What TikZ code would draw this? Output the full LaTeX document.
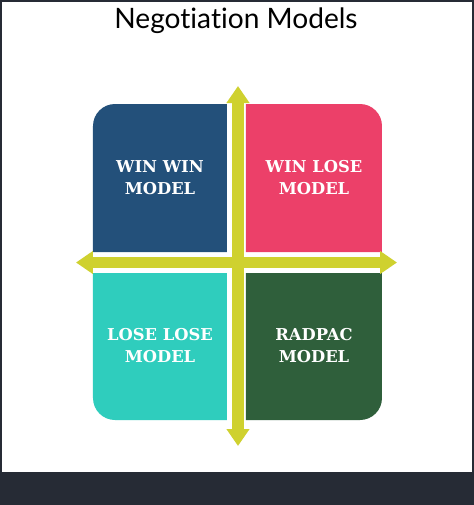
\documentclass[tikz,border=0pt]{standalone}
\usepackage{fontspec}
\setmainfont{Lato}[Ligatures={NoCommon,NoRare,NoDiscretionary}]
\newfontfamily\boxfont{DejaVu Serif}
\usetikzlibrary{arrows.meta}
\definecolor{winblue}{HTML}{23507A}
\definecolor{losepink}{HTML}{EC4069}
\definecolor{loseteal}{HTML}{2FCDBD}
\definecolor{radgreen}{HTML}{2F5F3B}
\definecolor{axisyellow}{HTML}{CFD12F}
\definecolor{framegray}{HTML}{262B35}
\newcommand*{\cornerradius}{0.44cm}

\begin{document}
\begin{tikzpicture}[x=0.02cm, y=-0.02cm,
    label/.style={text=white, align=center, font=\boxfont\bfseries\fontsize{9.3}{12.5}\selectfont},
    axis/.style={axisyellow, line width=0.23cm, {Triangle[width=0.44cm, length=0.34cm]}-{Triangle[width=0.44cm, length=0.34cm]}}]
    % page and frame
    \useasboundingbox (0,0) rectangle (474,505);
    \fill[framegray] (0,0) rectangle (474,505);
    \fill[white] (2,2) rectangle (472,472);
    % title
    \node[font=\fontsize{16}{19}\selectfont] (title) at (236,21) {Negotiation Models};
    % top left box
    \fill[winblue] (227,252) -- (93,252) [rounded corners=\cornerradius] -- (93,104) [sharp corners] -- (227,104) -- cycle;
    % top right box
    \fill[losepink] (246,252) -- (246,104) [rounded corners=\cornerradius] -- (382,104) [sharp corners] -- (382,252) -- cycle;
    % bottom left box
    \fill[loseteal] (227,273) -- (93,273) [rounded corners=\cornerradius] -- (93,420) [sharp corners] -- (227,420) -- cycle;
    % bottom right box
    \fill[radgreen] (246,273) -- (246,420) [rounded corners=\cornerradius] -- (382,420) [sharp corners] -- (382,273) -- cycle;
    % box labels
    \node[label] (winwin) at (160,178) {WIN WIN\\MODEL};
    \node[label] (winlose) at (314,178) {WIN LOSE\\MODEL};
    \node[label] (loselose) at (160,346) {LOSE LOSE\\MODEL};
    \node[label] (radpac) at (314,346) {RADPAC\\MODEL};
    % axis ends
    \coordinate (up) at (238,86);
    \coordinate (down) at (238,446);
    \coordinate (left) at (76,262.5);
    \coordinate (right) at (397,262.5);
    % vertical axis
    \draw[axis] (down) -- (up);
    % horizontal axis
    \draw[axis] (left) -- (right);
\end{tikzpicture}
\end{document}
